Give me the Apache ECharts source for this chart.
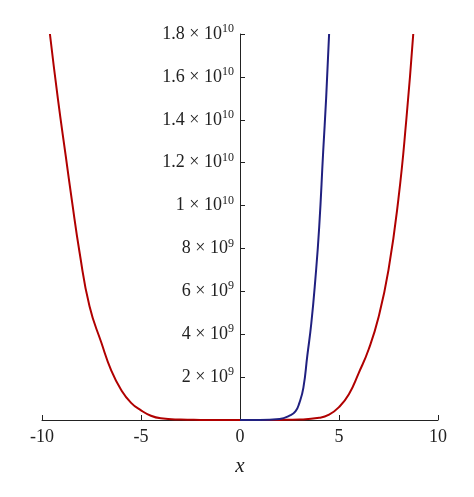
<!DOCTYPE html>
<html><head><meta charset="utf-8">
<script src="https://cdn.jsdelivr.net/npm/echarts@6/dist/echarts.min.js"></script>
<style>html,body{margin:0;background:#fff}#c{width:474px;height:497px}</style>
</head><body><div id="c"></div>
<script>
const redX = [-9.6,-9.2,-8.8,-8.5,-8.1,-7.6,-7.0,-6.5,-6.0,-5.5,-5.0,-4.5,-4.0,-3.0,-2.0,-1.0,0,1,2,3,4,4.5,5,5.5,6,6.5,7,7.5,8,8.4,8.75];
const redY = [1.8e10,1.5e10,1.23e10,1.03e10,0.78e10,0.53e10,0.36e10,0.23e10,0.14e10,0.08e10,0.045e10,0.02e10,0.008e10,0.002e10,0.0005e10,0,0,0,0.0005e10,0.002e10,0.01e10,0.025e10,0.06e10,0.12e10,0.22e10,0.33e10,0.48e10,0.7e10,1.03e10,1.4e10,1.8e10];
const blueX = [0,1,2,2.5,2.8,3.0,3.2,3.4,3.6,3.8,4.0,4.2,4.35,4.5];
const blueY = [0,0,0.005e10,0.02e10,0.04e10,0.08e10,0.15e10,0.3e10,0.45e10,0.65e10,0.9e10,1.25e10,1.5e10,1.8e10];
const yTickLabels = {2e9:['2','9'],4e9:['4','9'],6e9:['6','9'],8e9:['8','9'],1e10:['1','10'],1.2e10:['1.2','10'],1.4e10:['1.4','10'],1.6e10:['1.6','10'],1.8e10:['1.8','10']};
const font = 'Liberation Serif';
const chart = echarts.init(document.getElementById('c'));
chart.setOption({
  animation:false,
  grid:{left:42,right:36,top:34,bottom:77,containLabel:false,outerBoundsMode:'none'},
  xAxis:{type:'value',min:-10,max:10,interval:5,name:'x',nameLocation:'middle',nameGap:36,
    nameTextStyle:{fontFamily:font,fontStyle:'italic',fontSize:21,color:'#222'},
    axisLine:{onZero:true,lineStyle:{color:'#222'}},axisTick:{inside:true,length:5,lineStyle:{color:'#222'}},
    axisLabel:{fontFamily:font,fontSize:18,color:'#222',margin:8},splitLine:{show:false}},
  yAxis:{type:'value',min:0,max:1.8e10,interval:2e9,position:'left',offset:-198,
    axisLine:{onZero:false,lineStyle:{color:'#222'}},axisTick:{inside:true,length:5,lineStyle:{color:'#222'}},
    splitLine:{show:false},
    axisLabel:{margin:6,formatter:v=>{const t=yTickLabels[v];return t?'{b|'+t[0]+' × 10}{s|'+t[1]+'}':'';},
      rich:{b:{fontFamily:font,fontSize:18,color:'#222'},s:{fontFamily:font,fontSize:12,color:'#222',padding:[0,0,10,0]}}}},
  series:[
    {type:'line',data:redX.map((x,i)=>[x,redY[i]]),smooth:true,symbol:'none',lineStyle:{color:'#b00000',width:2}},
    {type:'line',data:blueX.map((x,i)=>[x,blueY[i]]),smooth:true,symbol:'none',lineStyle:{color:'#202080',width:2}}
  ]
});
</script></body></html>
